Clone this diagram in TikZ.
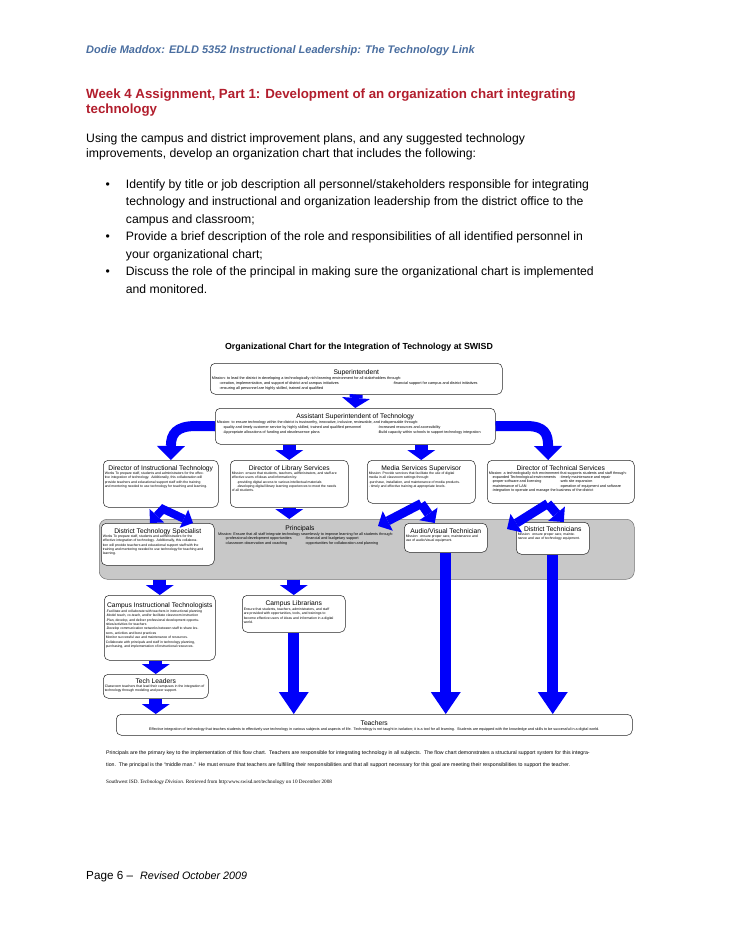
\documentclass[tikz,border=0pt]{standalone}
\usepackage{fontspec}
\setmainfont{Liberation Sans}
\newfontfamily\serifface{Liberation Serif}
\usetikzlibrary{arrows.meta}
\definecolor{hdrblue}{RGB}{74,110,160}
\definecolor{ttlred}{RGB}{178,30,45}
\definecolor{arblue}{RGB}{0,0,250}
\definecolor{prgray}{RGB}{200,200,200}
\newcommand{\ttlf}{\fontsize{6.7}{7.5}\selectfont}
% width, height, title strut, title, font size, leading, body
\newcommand{\bxt}[7]{\parbox[c][#2][t]{#1}{\lineskip=0.2pt\centering\ttlf\rule{0pt}{#3}#4\par\raggedright\fontsize{#5}{#6}\selectfont\begin{tabular}[t]{@{}l@{}}#7\end{tabular}\par}}
\begin{document}
\begin{tikzpicture}[x=1pt,y=-1pt,
  bx/.style={draw=black!85, line width=0.5pt, rounded corners=5pt, fill=white, inner sep=1.5pt, anchor=north west},
  sarrow/.style={draw=arblue, line width=13pt, -{Triangle[width=28pt,length=10pt,line width=0pt]}},
  larrow/.style={draw=arblue, line width=11pt, -{Triangle[width=30pt,length=22pt,line width=0pt]}},
  carrow/.style={draw=arblue, line width=10pt, -{Triangle[width=28pt,length=14pt,line width=0pt]}},
  farrow/.style={draw=arblue, line width=9pt, -{Triangle[width=22pt,length=11pt,line width=0pt]}},
  darrow/.style={draw=arblue, line width=8pt, {Triangle[width=20pt,length=10pt,line width=0pt]}-{Triangle[width=20pt,length=10pt,line width=0pt]}},
  txt/.style={anchor=base west, inner sep=0pt}]
\fill[white] (0,0) rectangle (728,942);
\useasboundingbox (0,0) rectangle (728,942);

% ---------- page text ----------
\node[txt, text=hdrblue, font=\fontsize{11}{13}\selectfont\bfseries\itshape] (hdr) at (86,53.5) {Dodie Maddox: EDLD 5352 Instructional Leadership: The Technology Link};
\node[txt, text=ttlred] (wk) at (86,99) {\fontsize{13.3}{14.4}\selectfont\bfseries\begin{tabular}[t]{@{}l@{}}Week 4 Assignment, Part 1: Development of an organization chart integrating\\technology\end{tabular}};
\node[txt] (intro) at (86,142.3) {\fontsize{12.2}{15}\selectfont\begin{tabular}[t]{@{}l@{}}Using the campus and district improvement plans, and any suggested technology\\improvements, develop an organization chart that includes the following:\end{tabular}};
\node[txt, font=\fontsize{12.2}{15}\selectfont] (b1) at (105.5,188) {•};
\node[txt, font=\fontsize{12.2}{15}\selectfont] (b2) at (105.5,240.7) {•};
\node[txt, font=\fontsize{12.2}{15}\selectfont] (b3) at (105.5,275.7) {•};
\node[txt] (t1) at (125.7,188) {\fontsize{12.2}{17.5}\selectfont\begin{tabular}[t]{@{}l@{}}Identify by title or job description all personnel/stakeholders responsible for integrating\\technology and instructional and organization leadership from the district office to the\\campus and classroom;\end{tabular}};
\node[txt] (t2) at (125.7,240.7) {\fontsize{12.2}{17.5}\selectfont\begin{tabular}[t]{@{}l@{}}Provide a brief description of the role and responsibilities of all identified personnel in\\your organizational chart;\end{tabular}};
\node[txt] (t3) at (125.7,275.7) {\fontsize{12.2}{17.5}\selectfont\begin{tabular}[t]{@{}l@{}}Discuss the role of the principal in making sure the organizational chart is implemented\\and monitored.\end{tabular}};

% ---------- chart ----------
\node[anchor=base, inner sep=0pt, font=\fontsize{8.8}{10}\selectfont\bfseries] (ctitle) at (359,349) {Organizational Chart for the Integration of Technology at SWISD};

\node[draw=black!55, line width=0.5pt, fill=prgray, rounded corners=8pt, anchor=north west, minimum width=535pt, minimum height=60pt, inner sep=0pt] (prin) at (99,519) {};

\node[bx] (sup) at (210,363) {\bxt{289pt}{28pt}{9.5pt}{Superintendent}{3.8}{5}{%
Mission: to lead the district in developing a technologically rich learning environment for all stakeholders through:\\
\makebox[181pt][l]{\hspace*{7.5pt}-creation, implementation, and support of district and campus initiatives}-financial support for campus and district initiatives\\
\hspace*{7.5pt}-ensuring all personnel are highly skilled, trained and qualified}};

\node[bx] (asst) at (215,408) {\bxt{277pt}{33pt}{9pt}{Assistant Superintendent of Technology}{3.7}{4.8}{%
Mission: to ensure technology within the district is trustworthy, innovative, inclusive, reviewable, and indispensable through:\\
\makebox[161pt][l]{\hspace*{6pt}-quality and timely customer service by highly skilled, trained and qualified personnel}-Increased resources and accessibility\\
\makebox[161pt][l]{\hspace*{6pt}-Appropriate allocations of funding and obsolescence plans}-Build capacity within schools to support technology integration}};

\node[bx] (dit) at (103,460) {\bxt{112pt}{44pt}{8.5pt}{Director of Instructional Technology}{3.45}{4.2}{%
Works To prepare staff, students and administrators for the effec-\\
tive integration of technology.\ \ Additionally, this collaboration will\\
provide teachers and educational support staff with the training\\
and mentoring needed to use technology for teaching and learning.}};

\node[bx] (dls) at (230,460) {\bxt{115pt}{44pt}{8.5pt}{Director of Library Services}{3.45}{4.2}{%
Mission: ensure that students, teachers, administrators, and staff are\\
effective users of ideas and information by:\\
\hspace*{5pt}-providing digital access to various intellectual materials\\
\hspace*{5pt}-developing digital library learning experiences to meet the needs\\
of all students.}};

\node[bx] (mss) at (367,460) {\bxt{105pt}{40pt}{8.5pt}{Media Services Supervisor}{3.45}{4.2}{%
Mission: Provide services that facilitate the use of digital\\
media in all classroom settings through:\\
-purchase, installation, and maintenance of media products.\\
- timely and effective training at appropriate levels.}};

\node[bx] (dts) at (487,460) {\bxt{144pt}{40pt}{8.5pt}{Director of Technical Services}{3.7}{4.2}{%
Mission: a technologically rich environment that supports students and staff through:\\
\makebox[71pt][l]{\hspace*{3pt}-expanded Technological environments}-timely maintenance and repair\\
\makebox[71pt][l]{\hspace*{3pt}-proper software and licensing}-web site expansion\\
\makebox[71pt][l]{\hspace*{3pt}-maintenance of LAN}-operation of equipment and software\\
\hspace*{3pt}-integration to operate and manage the business of the district}};

\node[bx] (dtsp) at (101,523) {\bxt{110pt}{39pt}{8.5pt}{District Technology Specialist}{3.45}{4.2}{%
Works To prepare staff, students and administrators for the\\
effective integration of technology.\ \ Additionally, this collabora-\\
tion will provide teachers and educational support staff with the\\
training and mentoring needed to use technology for teaching and\\
learning.}};

\node[anchor=base, inner sep=0pt, font=\ttlf] (prtitle) at (300,530.5) {Principals};
\node[txt] (prbody) at (218,535) {\fontsize{3.75}{4.8}\selectfont\begin{tabular}[t]{@{}l@{}}Mission: Ensure that all staff integrate technology seamlessly to improve learning for all students through:\\
\makebox[87pt][l]{\hspace*{7pt}-professional development opportunities}-financial and budgetary support\\
\makebox[87pt][l]{\hspace*{7pt}-classroom observation and coaching}-opportunities for collaboration and planning\end{tabular}};

\node[bx] (avt) at (404,523) {\bxt{80pt}{26pt}{8.5pt}{Audio/Visual Technician}{3.45}{4.2}{%
Mission:\ \ ensure proper care, maintenance and\\
use of audio/visual equipment.}};

\node[bx] (dtech) at (516,522) {\bxt{70pt}{29pt}{7.8pt}{District Technicians}{3.45}{4.2}{%
Mission:\ \ ensure proper care, mainte-\\
nance and use of technology equipment.}};

\node[bx] (cit) at (104,595) {\bxt{108pt}{62pt}{10.8pt}{Campus Instructional Technologists}{3.4}{4.4}{%
-Facilitate and collaborate with teachers in instructional planning\\
-Model teach, co-teach, and/or facilitate classroom instruction\\
-Plan, develop, and deliver professional development opportu-\\
nities/activities for teachers\\
-Develop communication networks between staff to share les-\\
sons, activities and best practices\\
Monitor successful use and maintenance of resources.\\
Collaborate with principals and staff in technology planning,\\
purchasing, and implementation of instructional resources.}};

\node[bx] (clib) at (242,595) {\bxt{100pt}{34pt}{9.1pt}{Campus Librarians}{3.45}{4.3}{%
Ensure that students, teachers, administrators, and staff\\
are provided with opportunities, tools, and trainings to\\
become effective users of ideas and information in a digital\\
world.}};

\node[bx] (tl) at (103,674) {\bxt{102pt}{21pt}{7.5pt}{Tech Leaders}{3.45}{4.3}{%
Classroom teachers that lead their campuses in the integration of\\
technology through modeling and peer support.}};

\node[bx] (teach) at (116,714) {\parbox[c][18pt][t]{513pt}{\lineskip=0.2pt\centering\ttlf\rule{0pt}{10pt}Teachers\par\fontsize{3.7}{4.4}\selectfont Effective integration of technology that teaches students to effectively use technology in various subjects and aspects of life.\ \ Technology is not taught in isolation; it is a tool for all learning.\ \ Students are equipped with the knowledge and skills to be successful in a digital world.\par}};

% ---------- arrows ----------
\draw[sarrow] (sup.south) -- (asst.north);
\draw[carrow] (asst.west) -- (196,426) .. controls (176,426) and (171,434) .. ([xshift=10pt]dit.north);
\draw[carrow] (asst.east) -- (526,426) .. controls (545,426) and (548,434) .. ([xshift=-12.5pt]dts.north);
\draw[sarrow] (asst.south -| dls.north) -- (dls.north);
\draw[sarrow] (asst.south -| mss.north) -- (mss.north);
\coordinate (dbend) at (163,509);
\coordinate (dleft) at (150,523);
\coordinate (dright) at (193,523);
\draw[darrow] (dleft) -- (dbend) -- (dright);
\draw[sarrow] (dls.south) -- (dls.south |- prin.north);
\coordinate (mleft) at (378,526);
\draw[farrow] (mss.south) -- (mleft);
\draw[farrow] (mss.south) -- ([xshift=-11pt]avt.north);
\coordinate (tleft) at (507,529);
\draw[farrow] ([xshift=-13pt]dts.south) -- (tleft);
\draw[farrow] ([xshift=-13pt]dts.south) -- ([xshift=11pt]dtech.north);
\draw[sarrow] (cit.north |- prin.south) -- (cit.north);
\draw[sarrow] (clib.north |- prin.south) -- (clib.north);
\draw[sarrow] (tl.north |- cit.south) -- (tl.north);
\draw[sarrow] (tl.south) -- (tl.south |- teach.north);
\draw[larrow] (clib.south) -- (clib.south |- teach.north);
\draw[larrow] (avt.south) -- (avt.south |- teach.north);
\draw[larrow] (dtech.south) -- (dtech.south |- teach.north);

% ---------- notes ----------
\node[txt] (note) at (106,754) {\fontsize{5.2}{12}\selectfont\begin{tabular}[t]{@{}l@{}}Principals are the primary key to the implementation of this flow chart.\ \ Teachers are responsible for integrating technology in all subjects.\ \ The flow chart demonstrates a structural support system for this integra-\\tion.\ \ The principal is the ``middle man.''\ \ He must ensure that teachers are fulfilling their responsibilities and that all support necessary for this goal are meeting their responsibilities to support the teacher.\end{tabular}};
\node[txt] (cite) at (106,783) {\serifface\fontsize{5.2}{6}\selectfont Southwest ISD. \textit{Technology Division.} Retrieved from http:www.swisd.net/technology on 10 December 2008};

\node[txt, font=\fontsize{11.7}{13}\selectfont] (pg) at (86,879) {Page 6 –};
\node[txt, font=\fontsize{10.75}{13}\selectfont\itshape] (rev) at (140,879) {Revised October 2009};
\end{tikzpicture}
\end{document}
